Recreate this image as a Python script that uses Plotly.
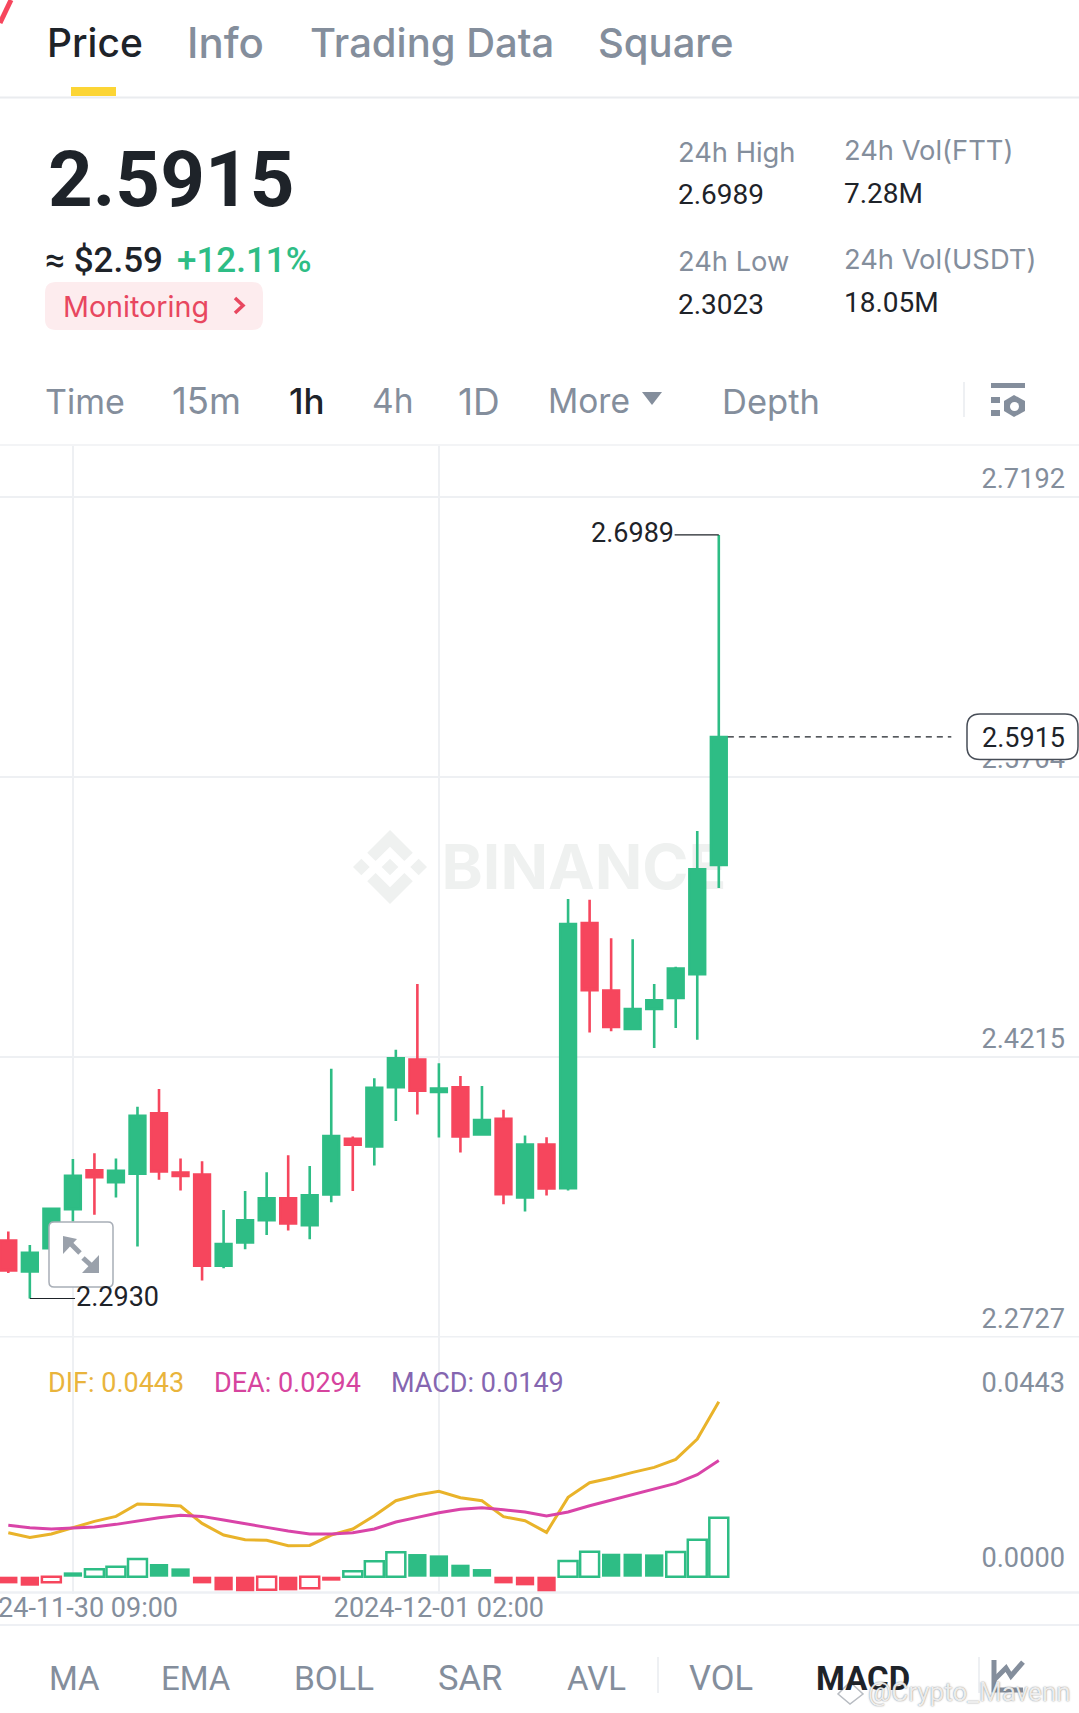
import pandas as pd
import plotly.graph_objects as go

W, H = 1079, 1713

# hourly candles
times = pd.date_range("2024-11-30 06:00", periods=34, freq="h")
opens = [2.3238, 2.3074, 2.3198, 2.3405, 2.3612, 2.3548, 2.3593, 2.3915, 2.3600, 2.3589, 2.3104, 2.3228,
         2.3346, 2.3462, 2.3320, 2.3483, 2.3779, 2.3738, 2.4053, 2.4200, 2.4028, 2.4053, 2.3802, 2.3885,
         2.3467, 2.3748, 2.3516, 2.4926, 2.4567, 2.4363, 2.4469, 2.4528, 2.4654, 2.5235]
closes = [2.3079, 2.3173, 2.3407, 2.3582, 2.3575, 2.3609, 2.3901, 2.3605, 2.3582, 2.3104, 2.3219, 2.3346,
          2.3462, 2.3329, 2.3479, 2.3793, 2.3748, 2.4050, 2.4207, 2.4034, 2.4046, 2.3791, 2.3878, 2.3484,
          2.3748, 2.3515, 2.4921, 2.4569, 2.4374, 2.4468, 2.4515, 2.4684, 2.5212, 2.5915]
highs = [2.3286, 2.3215, 2.3407, 2.3671, 2.3702, 2.3674, 2.3949, 2.4043, 2.3674, 2.3660, 2.3401, 2.3502,
         2.3601, 2.3692, 2.3635, 2.4151, 2.3791, 2.4101, 2.4252, 2.4602, 2.4181, 2.4113, 2.4060, 2.3933,
         2.3796, 2.3787, 2.5054, 2.5049, 2.4845, 2.4840, 2.4602, 2.4694, 2.5415, 2.6989]
lows = [2.3065, 2.2930, 2.3162, 2.3339, 2.3375, 2.3467, 2.3207, 2.3561, 2.3504, 2.3026, 2.3091, 2.3192,
        2.3268, 2.3291, 2.3245, 2.3442, 2.3502, 2.3637, 2.3874, 2.3908, 2.3786, 2.3706, 2.3802, 2.3431,
        2.3392, 2.3477, 2.3504, 2.4344, 2.4351, 2.4363, 2.4262, 2.4368, 2.4305, 2.5112]

dif = [0.01114, 0.00996, 0.01080, 0.01249, 0.01401, 0.01527, 0.01840, 0.01823, 0.01789, 0.01350, 0.01055, 0.00937,
       0.00920, 0.00785, 0.00793, 0.01055, 0.01207, 0.01544, 0.01924, 0.02068, 0.02160, 0.02000, 0.01924, 0.01519,
       0.01418, 0.01122, 0.02008, 0.02380, 0.02498, 0.02641, 0.02768, 0.02970, 0.03485, 0.0443]
dea = [0.01300, 0.01241, 0.01207, 0.01224, 0.01257, 0.01325, 0.01418, 0.01494, 0.01553, 0.01527, 0.01435, 0.01333,
       0.01249, 0.01156, 0.01080, 0.01080, 0.01114, 0.01207, 0.01384, 0.01502, 0.01620, 0.01705, 0.01747, 0.01696,
       0.01637, 0.01536, 0.01637, 0.01797, 0.01941, 0.02084, 0.02219, 0.02363, 0.02582, 0.0294]
macd = [-0.00169, -0.00228, -0.00143, 0.00110, 0.00186, 0.00253, 0.00447, 0.00321, 0.00211, -0.00169, -0.00346, -0.00380,
        -0.00329, -0.00346, -0.00295, -0.00101, 0.00135, 0.00388, 0.00616, 0.00574, 0.00540, 0.00304, 0.00194, -0.00169,
        -0.00219, -0.00405, 0.00397, 0.00633, 0.00582, 0.00582, 0.00565, 0.00624, 0.00937, 0.0149]
macd_hollow = [0, 0, 1, 0, 1, 1, 1, 0, 0, 0, 0, 0, 1, 0, 1, 0, 1, 1, 1, 0, 0, 0, 0, 0, 0, 0, 1, 1, 0, 0, 0, 1, 1, 1]

price_ticks = [2.7192, 2.5704, 2.4215, 2.2727]
macd_ticks = [0.0443, 0.0]
time_ticks = ["2024-11-30 09:00", "2024-12-01 02:00"]
last_price = 2.5915
day_high = 2.6989
day_low = 2.2930

GREEN = "#2EBD85"
RED = "#F6465D"
DARK = "#1E2329"
GRAY = "#848E9C"
LINE = "#EEF0F3"
WATERMARK = "#EFF1F0"
UI = "Inter"
NUM = "Roboto"

HOUR_PX = 21.53
PRICE_PX = 1881.7
MACD_PX = 3950.0


def fx(x):
    return x / W


def fy(y):
    return 1 - y / H


def path_of(points, close=False):
    d = "M" + " L".join(f"{fx(x):.5f},{fy(y):.5f}" for x, y in points)
    return d + " Z" if close else d


def round_rect(x0, y0, x1, y1, r):
    rx, ry = r / W, r / H
    a, b, c, d = fx(x0), fx(x1), fy(y0), fy(y1)
    return (f"M{a+rx:.5f},{c:.5f} L{b-rx:.5f},{c:.5f} Q{b:.5f},{c:.5f} {b:.5f},{c-ry:.5f} "
            f"L{b:.5f},{d+ry:.5f} Q{b:.5f},{d:.5f} {b-rx:.5f},{d:.5f} L{a+rx:.5f},{d:.5f} "
            f"Q{a:.5f},{d:.5f} {a:.5f},{d+ry:.5f} L{a:.5f},{c-ry:.5f} Q{a:.5f},{c:.5f} {a+rx:.5f},{c:.5f} Z")


shapes = []
annotations = []


def label(text, x, y, size, color=GRAY, family=UI, weight=400, anchor="left"):
    annotations.append(dict(text=text, x=fx(x), y=fy(y), xref="paper", yref="paper", xanchor=anchor,
                            yanchor="middle", showarrow=False, borderpad=0, borderwidth=0,
                            font=dict(family=family, size=size, color=color, weight=weight)))


def hline(y, x0=0, x1=W, color=LINE, width=2):
    shapes.append(dict(type="line", xref="paper", yref="paper", x0=fx(x0), x1=fx(x1), y0=fy(y), y1=fy(y),
                       line=dict(color=color, width=width)))


def vline(x, y0, y1, color=LINE, width=2):
    shapes.append(dict(type="line", xref="paper", yref="paper", x0=fx(x), x1=fx(x), y0=fy(y0), y1=fy(y1),
                       line=dict(color=color, width=width)))


def poly(points, fill=None, color=None, width=0, closed=False, layer="above"):
    s = dict(type="path", xref="paper", yref="paper", path=path_of(points, closed), layer=layer,
             line=dict(color=color or "rgba(0,0,0,0)", width=width))
    if fill:
        s["fillcolor"] = fill
    shapes.append(s)


# header
poly([(11, 0), (0, 23)], color=RED, width=5)
label("Price", 47, 42, 39, DARK, weight=500)
label("Info", 187, 42, 42, weight=500)
label("Trading Data", 310, 42, 40, weight=500)
label("Square", 598, 42, 40, weight=500)
shapes.append(dict(type="rect", xref="paper", yref="paper", x0=fx(71), x1=fx(116), y0=fy(87), y1=fy(96),
                   fillcolor="#FCD535", line=dict(width=0)))
hline(97.5, color="#EAECEF")

label("2.5915", 48, 180, 78, DARK, NUM, 700)
label("≈ $2.59", 45, 261, 35, DARK, NUM, 500)
label("+12.11%", 177, 261, 35, GREEN, NUM, 500)
shapes.append(dict(type="path", xref="paper", yref="paper", path=round_rect(45, 282, 263, 330, 11),
                   fillcolor="#FDECEE", line=dict(width=0)))
label("Monitoring", 63, 306, 28.7, "#E8475F")
poly([(235, 298), (243, 305.5), (235, 313)], color="#E8475F", width=3.5)

label("24h High", 678, 152, 27.3)
label("2.6989", 678, 195, 28, DARK, NUM)
label("24h Vol(FTT)", 844, 151, 27.3)
label("7.28M", 844, 193, 28, DARK, NUM)
label("24h Low", 678, 262, 27.3)
label("2.3023", 678, 304, 28, DARK, NUM)
label("24h Vol(USDT)", 844, 260, 27.3)
label("18.05M", 844, 302, 28, DARK, NUM)

# interval row
label("Time", 45, 401, 34)
label("15m", 172, 401, 36.5)
label("1h", 289, 401, 35, DARK, weight=500)
label("4h", 372, 401, 33.5)
label("1D", 458, 401, 37)
label("More", 548, 401, 33.5)
poly([(642, 392), (662, 392), (652, 405)], fill=GRAY, closed=True)
label("Depth", 722, 401, 34.5)
vline(964, 382, 417)
shapes.append(dict(type="rect", xref="paper", yref="paper", x0=fx(991), x1=fx(1025), y0=fy(383), y1=fy(388),
                   fillcolor=GRAY, line=dict(width=0)))
shapes.append(dict(type="rect", xref="paper", yref="paper", x0=fx(991), x1=fx(1000), y0=fy(397), y1=fy(403),
                   fillcolor=GRAY, line=dict(width=0)))
shapes.append(dict(type="rect", xref="paper", yref="paper", x0=fx(991), x1=fx(1000), y0=fy(410), y1=fy(416),
                   fillcolor=GRAY, line=dict(width=0)))
poly([(1014, 395), (1025, 401), (1025, 411), (1014, 417), (1004, 411), (1004, 401)], fill=GRAY, closed=True)
shapes.append(dict(type="circle", xref="paper", yref="paper", x0=fx(1010), x1=fx(1019), y0=fy(402), y1=fy(411),
                   fillcolor="white", line=dict(width=0)))
hline(445, color="#F3F4F6")
hline(1336.7, color=LINE, width=1.5)

# watermark logo, under the candles
cx, cy, k = 390, 867, 0.585
for dx in [-48.97, 0, 48.97]:
    poly([(cx+k*dx, cy-k*14.3), (cx+k*(dx+14.3), cy), (cx+k*dx, cy+k*14.3), (cx+k*(dx-14.3), cy)],
         fill=WATERMARK, closed=True, layer="below")
for sign in [-1, 1]:
    poly([(cx, cy+sign*k*63.3), (cx+k*38.88, cy+sign*k*24.4), (cx+k*24.58, cy+sign*k*10.1), (cx, cy+sign*k*34.67),
          (cx-k*24.58, cy+sign*k*10.1), (cx-k*38.88, cy+sign*k*24.4)], fill=WATERMARK, closed=True, layer="below")

# expand button
shapes.append(dict(type="path", xref="paper", yref="paper", path=round_rect(49, 1222, 113, 1287, 5),
                   fillcolor="white", line=dict(color="#A8AEB7", width=1.5)))
poly([(63, 1236), (77, 1239), (63, 1254)], fill="#9AA1AB", closed=True)
poly([(99, 1273), (82, 1273), (99, 1255)], fill="#9AA1AB", closed=True)
poly([(68, 1241), (80, 1253)], color="#9AA1AB", width=5)
poly([(83, 1258), (94, 1268)], color="#9AA1AB", width=5)

# high / low / last price markers
high_x = times[33]
low_x = times[1]
shapes.append(dict(type="line", xref="x", yref="y", x0=high_x, x1=high_x - pd.Timedelta(hours=2.05),
                   y0=day_high, y1=day_high, line=dict(color=DARK, width=1.2)))
shapes.append(dict(type="line", xref="x", yref="y", x0=low_x, x1=low_x + pd.Timedelta(hours=2.1),
                   y0=day_low, y1=day_low, line=dict(color=DARK, width=1.2)))
annotations.append(dict(text=f"{day_high:.4f}", x=high_x - pd.Timedelta(hours=2.02), y=day_high, xref="x", yref="y",
                        xanchor="right", yanchor="middle", showarrow=False, borderpad=0, yshift=2,
                        font=dict(family=NUM, size=27, color=DARK)))
annotations.append(dict(text=f"{day_low:.4f}", x=low_x + pd.Timedelta(hours=2.1), y=day_low, xref="x", yref="y",
                        xanchor="left", yanchor="middle", showarrow=False, borderpad=0, yshift=2,
                        font=dict(family=NUM, size=27, color=DARK)))
shapes.append(dict(type="line", xref="x", yref="y", x0=times[33] + pd.Timedelta(hours=0.42),
                   x1=times[33] + pd.Timedelta(hours=10.8), y0=last_price, y1=last_price,
                   line=dict(color=DARK, width=1.2, dash="6px,5px")))
shapes.append(dict(type="path", xref="paper", yref="paper", path=round_rect(967, 714, 1078, 759.5, 13),
                   fillcolor="white", line=dict(color="#474D57", width=1.5)))
label(f"{last_price:.4f}", 1065, 738, 27, DARK, NUM, anchor="right")

# macd legend
label("DIF: 0.0443", 48, 1383, 27, "#E9B43C", NUM)
label("DEA: 0.0294", 214, 1383, 27, "#D6449E", NUM)
label("MACD: 0.0149", 391, 1383, 27, "#8566B0", NUM)

hline(1592.5, color="#EEF0F4", width=2.5)
hline(1625, color="#EEF0F4", width=2)

# bottom tabs
label("MA", 49, 1678, 33, family=NUM)
label("EMA", 161, 1678, 33, family=NUM)
label("BOLL", 294, 1678, 33.5, family=NUM)
label("SAR", 438, 1678, 34.5, family=NUM)
label("AVL", 567, 1678, 33, family=NUM)
vline(658, 1657, 1693)
label("VOL", 689, 1678, 34.5, family=NUM)
label("MACD", 816, 1678, 33, DARK, NUM, 700)
vline(979, 1657, 1693)
poly([(994, 1660), (994, 1690), (1023, 1690)], color=GRAY, width=5)
poly([(994, 1680), (1006, 1668), (1011, 1676), (1023, 1662)], color=GRAY, width=5)

# screenshot credit
poly([(850, 1682), (863, 1694), (850, 1704), (838, 1694)], color="#B8BCC2", width=1.5, closed=True)
annotations.append(dict(text="@Crypto_Mavenn", x=fx(867), y=fy(1692), xref="paper", yref="paper", xanchor="left",
                        yanchor="middle", showarrow=False, borderpad=0,
                        font=dict(family=NUM, size=26, color="rgba(255,255,255,0.85)", shadow="0px 0px 1.5px #555")))

fig = go.Figure()
fig.add_trace(go.Scatter(x=[times[0] + pd.Timedelta(hours=26.74)], y=[2.5189], mode="text", text=["BINANCE"],
                         textfont=dict(family=UI, size=62.5, color=WATERMARK, weight=700),
                         xaxis="x", yaxis="y", hoverinfo="skip", showlegend=False))
fig.add_trace(go.Candlestick(x=times, open=opens, high=highs, low=lows, close=closes, xaxis="x", yaxis="y3",
                             increasing=dict(line=dict(color=GREEN, width=2.6), fillcolor=GREEN),
                             decreasing=dict(line=dict(color=RED, width=2.6), fillcolor=RED),
                             whiskerwidth=0, showlegend=False))

bar_fill = ["white" if h else (GREEN if v >= 0 else RED) for v, h in zip(macd, macd_hollow)]
bar_line = [GREEN if v >= 0 else RED for v in macd]
bar_lw = [2.5 if h else 0 for h in macd_hollow]
bar_w = [3600000 * (0.88 if h else 0.85) for h in macd_hollow]
fig.add_trace(go.Bar(x=times, y=macd, width=bar_w, xaxis="x2", yaxis="y2", showlegend=False,
                     marker=dict(color=bar_fill, line=dict(color=bar_line, width=bar_lw))))
fig.add_trace(go.Scatter(x=times, y=dif, mode="lines", line=dict(color="#E9B32A", width=3), xaxis="x2", yaxis="y2",
                         showlegend=False))
fig.add_trace(go.Scatter(x=times, y=dea, mode="lines", line=dict(color="#D944A8", width=3), xaxis="x2", yaxis="y2",
                         showlegend=False))

x_start = times[0] - pd.Timedelta(hours=8.3 / HOUR_PX)
x_end = x_start + pd.Timedelta(hours=W / HOUR_PX)
price_top = price_ticks[0] + (496.7 - 446) / PRICE_PX
price_bottom = price_ticks[-1]
macd_top = (1576.7 - 1336.7) / MACD_PX
macd_bottom = (1576.7 - 1594) / MACD_PX

common_x = dict(range=[x_start, x_end], type="date", tickvals=time_ticks, showgrid=True, gridcolor=LINE, gridwidth=1.5,
                zeroline=False, showline=False, ticks="")
fig.update_layout(
    width=W, height=H, autosize=False, template="none", paper_bgcolor="white", plot_bgcolor="white",
    margin=dict(l=0, r=0, t=0, b=0), showlegend=False, barmode="overlay", boxgap=0.27, boxgroupgap=0,
    hovermode=False, shapes=shapes, annotations=annotations,
    xaxis=dict(domain=[0, 1], anchor="y", showticklabels=False, rangeslider=dict(visible=False), **common_x),
    xaxis2=dict(domain=[0, 1], anchor="y2", matches="x", showticklabels=True, tickformat="%Y-%m-%d %H:%M",
                ticklabeloverflow="allow", ticklabelstandoff=-5,
                tickfont=dict(family=NUM, size=27, color=GRAY), **common_x),
    yaxis=dict(domain=[fy(1336.7), fy(446)], range=[price_bottom, price_top], anchor="x", side="right",
               tickvals=price_ticks, tickformat=".4f", ticklabelposition="inside", ticklabeloverflow="allow",
               ticklabelshift=-18, ticklabelstandoff=11, tickfont=dict(family=NUM, size=27.2, color=GRAY),
               showgrid=True, gridcolor=LINE, gridwidth=1.5, zeroline=False, showline=False, ticks=""),
    yaxis2=dict(domain=[fy(1594), fy(1336.7)], range=[macd_bottom, macd_top], anchor="x2", side="right",
                tickvals=macd_ticks, tickformat=".4f", ticklabelposition="inside", ticklabeloverflow="allow",
                ticklabelshift=-19, ticklabelstandoff=11, tickfont=dict(family=NUM, size=27.2, color=GRAY),
                showgrid=False, zeroline=False, showline=False, ticks=""),
    yaxis3=dict(overlaying="y", range=[price_bottom, price_top], anchor="x", side="right", visible=False),
)

fig.write_html("out.html", config=dict(displayModeBar=False), post_script="document.body.style.margin='0';")
